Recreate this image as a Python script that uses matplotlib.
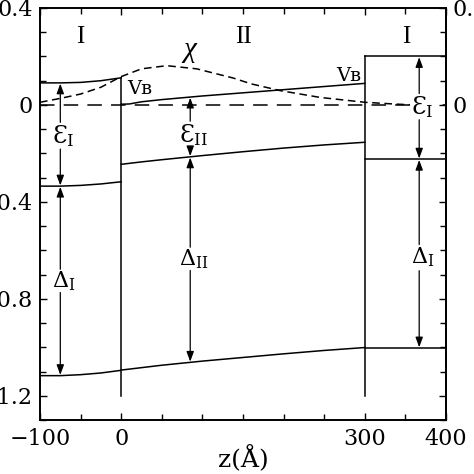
import numpy as np
import matplotlib
matplotlib.use('Agg')
import matplotlib.pyplot as plt
from matplotlib.ticker import MultipleLocator, FixedLocator, FuncFormatter

plt.rcParams['font.family'] = ['DejaVu Serif']
plt.rcParams['mathtext.fontset'] = 'dejavuserif'

# ---------------- data ----------------
# left barrier region I
z_I_left = [-100, -75, -50, -25, 0]
top_I_left = [0.091, 0.091, 0.093, 0.100, 0.112]
mid_I_left = [-0.335, -0.335, -0.332, -0.326, -0.317]
bot_I_left = [-1.117, -1.117, -1.113, -1.106, -1.095]

# well region II
z_II = [0, 10, 25, 50, 100, 150, 200, 250, 300]
top_II = [0.003, 0.004, 0.013, 0.022, 0.037, 0.050, 0.063, 0.076, 0.089]
mid_II = [-0.245, -0.241, -0.235, -0.226, -0.209, -0.193, -0.178, -0.165, -0.154]
bot_II = [-1.094, -1.090, -1.084, -1.074, -1.057, -1.042, -1.027, -1.013, -1.001]

# right barrier region I
z_I_right = [300, 400]
top_I_right = [0.200, 0.200]
mid_I_right = [-0.224, -0.224]
bot_I_right = [-1.003, -1.003]

# interfaces
interfaces = [0, 300]
interface_bottom = -1.2

# envelope function chi
z_chi = [-100, -75, -50, -25, 0, 25, 56, 93, 138, 160, 196, 245, 300, 335, 360]
chi = [0.011, 0.027, 0.045, 0.073, 0.117, 0.149, 0.162, 0.149, 0.111, 0.087,
       0.059, 0.031, 0.011, 0.004, 0.0]

xticks_major = [-100, 0, 300, 400]
xtick_labels = ['\u2212100', '0', '300', '400']
right_ticks = [0.0, 0.4]
right_labels = ['0', '0.4']

# ---------------- figure ----------------
fig = plt.figure(figsize=(4.74, 4.74), dpi=100)
ax = fig.add_axes([40 / 474, 1 - 420 / 474, 406 / 474, 412 / 474])
ax.set_xlim(-100, 400)
ax.set_ylim(-1.3, 0.4)

lw = 1.1
for z, ys in [(z_I_left, (top_I_left, mid_I_left, bot_I_left)),
              (z_II, (top_II, mid_II, bot_II)),
              (z_I_right, (top_I_right, mid_I_right, bot_I_right))]:
    for y in ys:
        ax.plot(z, y, color='k', lw=lw)

# interface verticals
ax.plot([interfaces[0], interfaces[0]], [top_I_left[-1], interface_bottom], color='k', lw=lw)
ax.plot([interfaces[1], interfaces[1]], [top_I_right[0], interface_bottom], color='k', lw=lw)

# zero reference line
ax.plot([-100, 400], [0, 0], color='k', lw=lw, dashes=(9.5, 6))
# chi
ax.plot(z_chi, chi, color='k', lw=lw, dashes=(5, 3))

arrow_kw = dict(arrowstyle='-|>,head_length=0.6,head_width=0.22', lw=0.9,
                color='k', shrinkA=0, shrinkB=0.5)


def double_arrow(z, y_top, y_bot, y_lab, gap, text, fs):
    ax.annotate(text, xy=(z, y_lab), xytext=(2.5, 0), textcoords='offset points',
                ha='center', va='center', fontsize=fs,
                bbox=dict(boxstyle='square,pad=0.05', fc='white', ec='none'))
    ax.annotate('', xy=(z, y_top), xytext=(z, y_lab + gap), arrowprops=arrow_kw)
    ax.annotate('', xy=(z, y_bot), xytext=(z, y_lab - gap), arrowprops=arrow_kw)


eps_I = '\u0190$_{\\rm I}$'
eps_II = '\u0190$_{\\rm II}$'
del_I = '\u0394$_{\\rm I}$'
del_II = '\u0394$_{\\rm II}$'

# left region I
zl = -75
double_arrow(zl, np.interp(zl, z_I_left, top_I_left), np.interp(zl, z_I_left, mid_I_left),
             -0.127, 0.055, eps_I, 17)
double_arrow(zl, np.interp(zl, z_I_left, mid_I_left), np.interp(zl, z_I_left, bot_I_left),
             -0.726, 0.048, del_I, 16)
# region II
zm = 85
double_arrow(zm, np.interp(zm, z_II, top_II), np.interp(zm, z_II, mid_II),
             -0.123, 0.056, eps_II, 17)
double_arrow(zm, np.interp(zm, z_II, mid_II), np.interp(zm, z_II, bot_II),
             -0.635, 0.048, del_II, 16)
# right region I
zr = 367
double_arrow(zr, np.interp(zr, z_I_right, top_I_right), np.interp(zr, z_I_right, mid_I_right),
             -0.007, 0.054, eps_I, 17)
double_arrow(zr, np.interp(zr, z_I_right, mid_I_right), np.interp(zr, z_I_right, bot_I_right),
             -0.63, 0.054, del_I, 16)

# region labels
lab_font = dict(family=['Liberation Serif', 'DejaVu Serif'], fontsize=18, ha='center', va='center')
ax.text(-51, 0.28, 'I', **lab_font)
ax.text(150, 0.28, 'II', **lab_font)
ax.text(351, 0.28, 'I', **lab_font)
ax.text(85, 0.226, '\u03c7', family=['Liberation Serif', 'DejaVu Serif'], style='italic',
        fontsize=21, ha='center', va='center')
ax.text(7, 0.066, 'V\u0299', fontsize=14, ha='left', va='center')
ax.text(296, 0.121, 'V\u0299', fontsize=14, ha='right', va='center')

# axes styling
for s in ax.spines.values():
    s.set_linewidth(1.4)
ax.xaxis.set_major_locator(FixedLocator(xticks_major))
ax.set_xticklabels(xtick_labels)
ax.xaxis.set_minor_locator(MultipleLocator(50))
ax.yaxis.set_major_locator(MultipleLocator(0.4))
ax.yaxis.set_minor_locator(MultipleLocator(0.1))
ax.yaxis.set_major_formatter(FuncFormatter(
    lambda v, p: '0' if abs(v) < 1e-9 else ('%.1f' % v).replace('-', '\u2212')))
ax.tick_params(which='both', direction='in', top=True, right=True, width=1.0)
ax.tick_params(which='major', length=5)
ax.tick_params(which='minor', length=4.5)
ax.tick_params(axis='both', labelsize=16)
ax.tick_params(axis='y', pad=5)
ax.tick_params(axis='x', pad=6)
ax.set_xlabel('z(\u00c5)', fontsize=18, labelpad=-3.5)

sec = ax.secondary_yaxis('right')
sec.set_yticks(right_ticks)
sec.set_yticklabels(right_labels)
sec.tick_params(length=0, labelsize=16, pad=5)
sec.spines['right'].set_linewidth(1.4)

fig.savefig('out.png', dpi=100)
